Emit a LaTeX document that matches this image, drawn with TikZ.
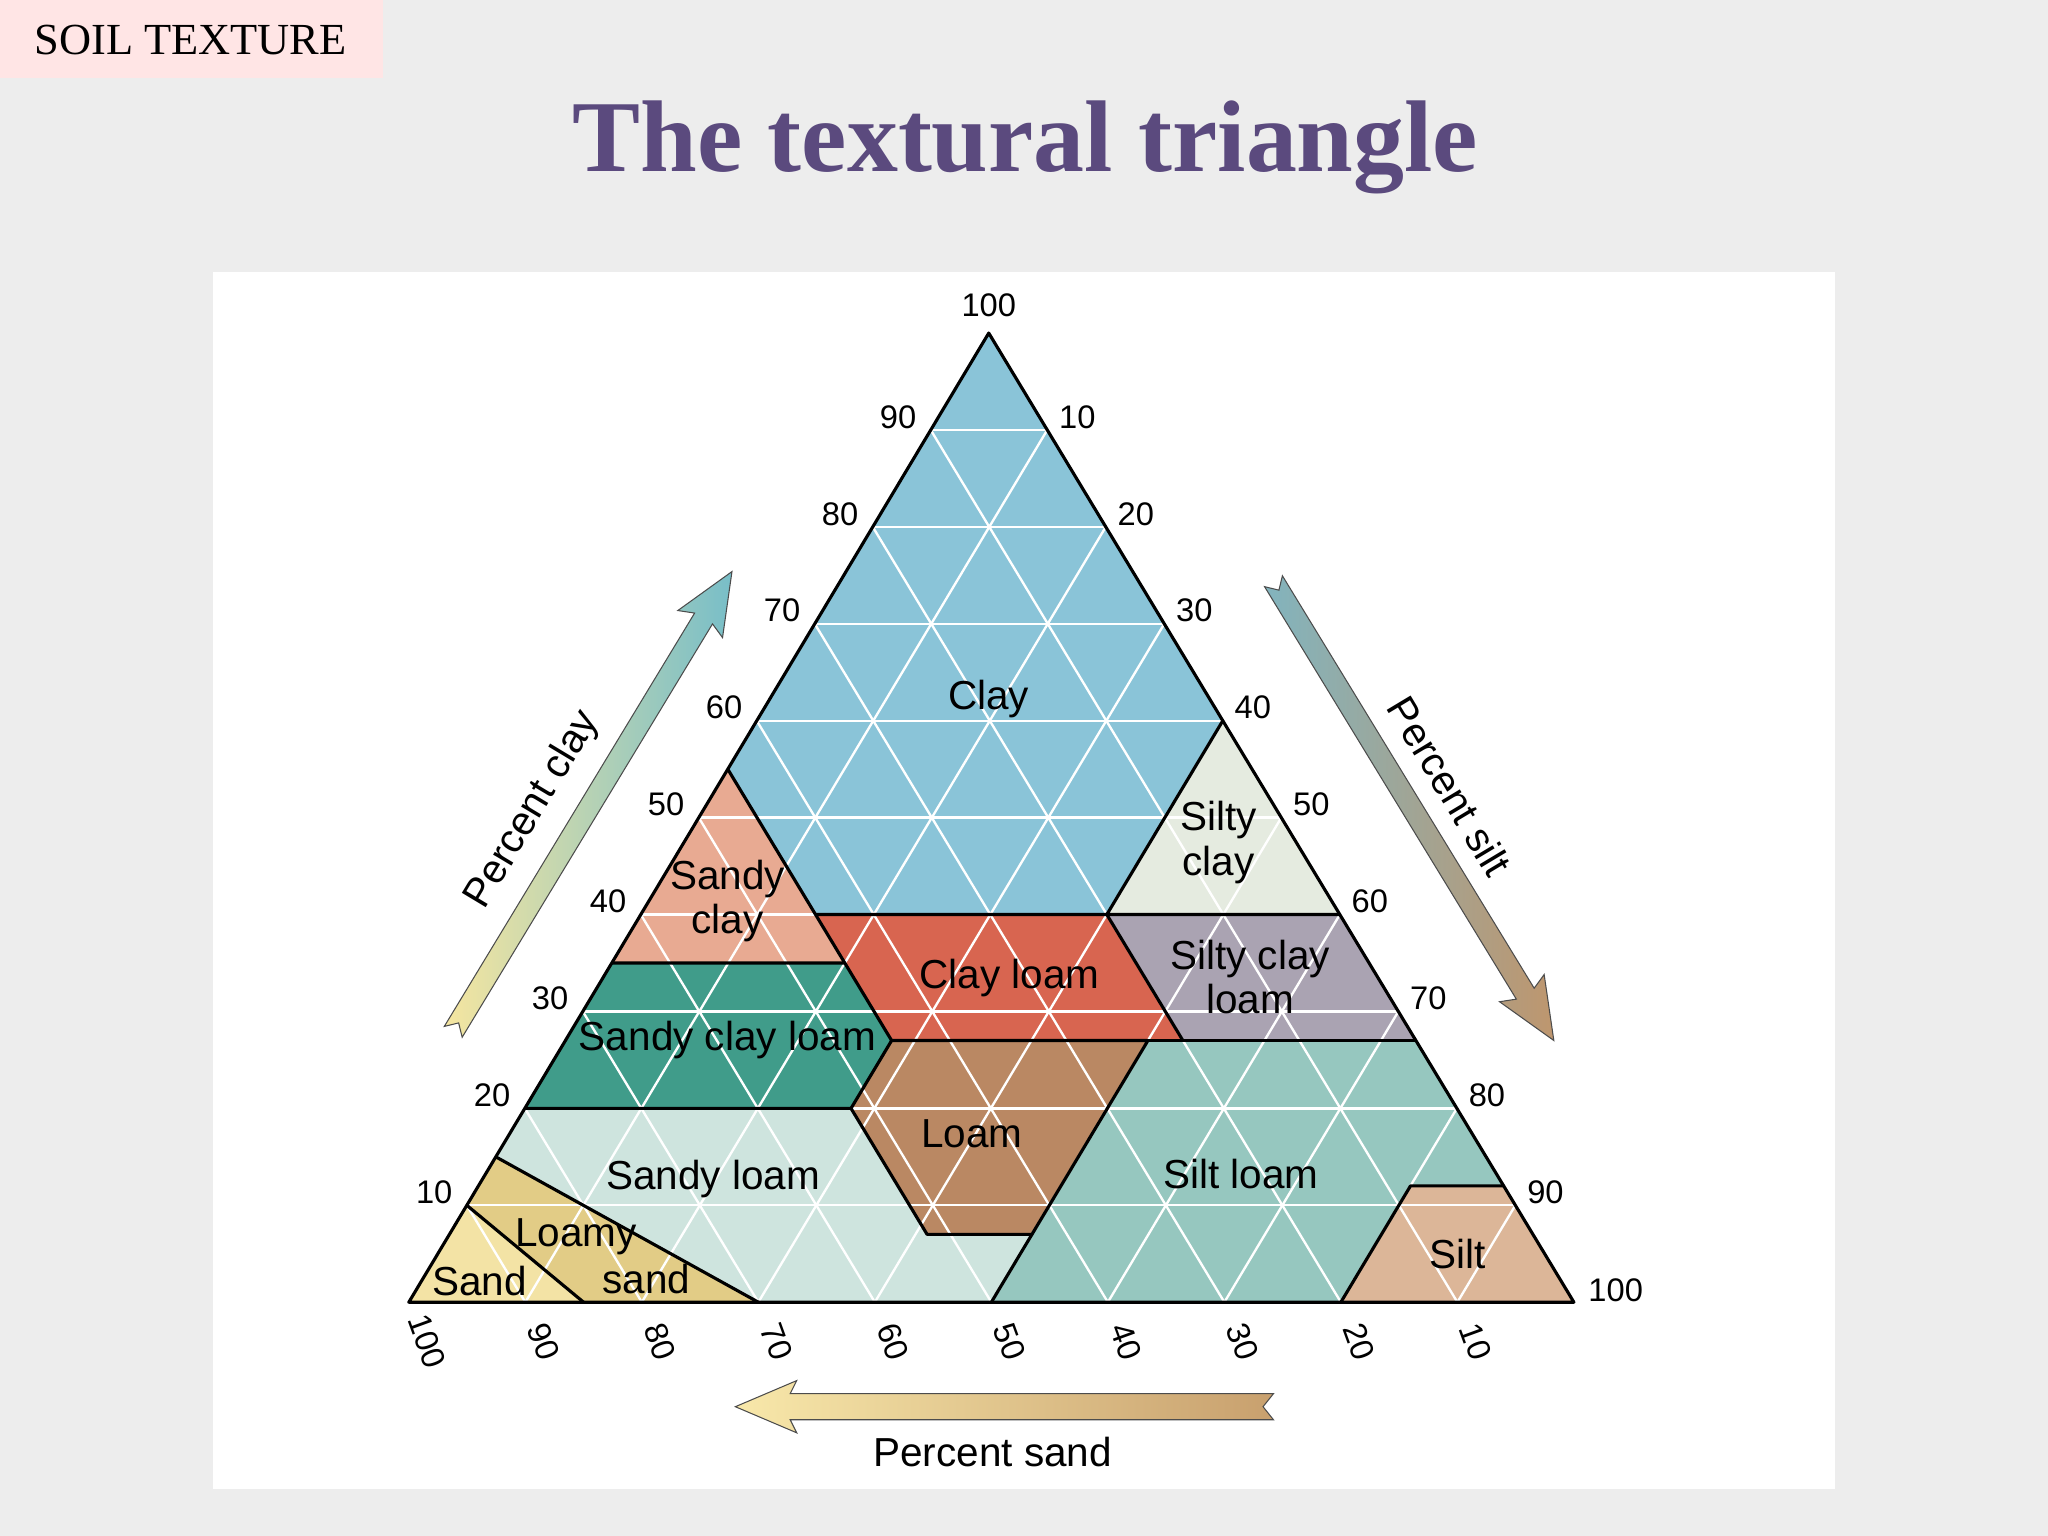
\documentclass[tikz,border=0pt]{standalone}
\usepackage{fontspec}
\setmainfont{Liberation Sans}
\newfontfamily\serifF{Liberation Serif}
\begin{document}
\begin{tikzpicture}[x=0.5pt,y=-0.5pt,
  reg/.style={draw=black,line width=1.2pt,line join=round},
  lab/.style={font=\fontsize{15.5}{17}\selectfont,align=center,inner sep=0pt},
  tick/.style={font=\fontsize{12.5}{14}\selectfont,inner sep=0pt},
  grid/.style={white,line width=0.9pt}]
\newcommand\tp[3]{({(#1)*3.13+(#2)*12.05+(#3)*7.57},{(#1)*9.97+(#2)*9.97+(#3)*2.55})}
\newcommand\tpo[5]{({(#1)*3.13+(#2)*12.05+(#3)*7.57+(#4)},{(#1)*9.97+(#2)*9.97+(#3)*2.55+(#5)})}
\useasboundingbox (0,0) rectangle (1568,1176);
\fill[gray!14] (0,0) rectangle (1568,1176);
\fill[white] (163,208) rectangle (1405,1140);
\fill[red!10!white] (0,0) rectangle (293,60);
\node[font=\serifF\fontsize{17}{20}\selectfont] (hdr) at (146,31) {SOIL TEXTURE};
\node[font=\serifF\bfseries\fontsize{39}{46}\selectfont,text={rgb,255:red,91;green,74;blue,126}] (title) at (785,113) {The textural triangle};
\coordinate (S) at (313,997);
\coordinate (Si) at (1205,997);
\coordinate (C) at (757,255);
\definecolor{cclay}{RGB}{138,196,216}
\definecolor{csc}{RGB}{229,235,224}
\definecolor{csicl}{RGB}{170,163,178}
\definecolor{ccl}{RGB}{216,101,80}
\definecolor{csac}{RGB}{232,170,146}
\definecolor{cscl}{RGB}{64,156,138}
\definecolor{cloam}{RGB}{186,136,99}
\definecolor{csl}{RGB}{206,228,222}
\definecolor{csil}{RGB}{150,199,191}
\definecolor{csilt}{RGB}{220,182,152}
\definecolor{cls}{RGB}{226,204,134}
\definecolor{csand}{RGB}{243,227,165}
\fill[csand] \tp{100}{0}{0}--\tp{85}{15}{0}--\tp{90}{0}{10}--cycle;
\fill[cls] \tp{85}{15}{0}--\tp{70}{30}{0}--\tp{85}{0}{15}--\tp{90}{0}{10}--cycle;
\fill[csl] \tp{70}{30}{0}--\tp{50}{50}{0}--\tp{43}{50}{7}--\tp{52}{41}{7}--\tp{52}{28}{20}--\tp{80}{0}{20}--\tp{85}{0}{15}--cycle;
\fill[cloam] \tp{43}{50}{7}--\tp{52}{41}{7}--\tp{52}{28}{20}--\tp{45}{28}{27}--\tp{23}{50}{27}--cycle;
\fill[csil] \tp{50}{50}{0}--\tp{20}{80}{0}--\tp{8}{80}{12}--\tp{0}{88}{12}--\tp{0}{73}{27}--\tp{23}{50}{27}--\tp{43}{50}{7}--cycle;
\fill[csilt] \tp{20}{80}{0}--\tp{0}{100}{0}--\tp{0}{88}{12}--\tp{8}{80}{12}--cycle;
\fill[cscl] \tp{80}{0}{20}--\tp{65}{0}{35}--\tp{45}{20}{35}--\tp{45}{28}{27}--\tp{52}{28}{20}--cycle;
\fill[csac] \tp{65}{0}{35}--\tp{45}{0}{55}--\tp{45}{20}{35}--cycle;
\fill[ccl] \tp{45}{28}{27}--\tp{45}{15}{40}--\tp{20}{40}{40}--\tp{20}{53}{27}--cycle;
\fill[csicl] \tp{20}{40}{40}--\tp{20}{53}{27}--\tp{0}{73}{27}--\tp{0}{60}{40}--cycle;
\fill[csc] \tp{0}{40}{60}--\tp{20}{40}{40}--\tp{0}{60}{40}--cycle;
\fill[cclay] \tp{45}{0}{55}--\tp{0}{0}{100}--\tp{0}{40}{60}--\tp{20}{40}{40}--\tp{45}{15}{40}--cycle;
\foreach \k in {10,20,...,90}{
  \pgfmathtruncatemacro\m{100-\k}
  \draw[grid] \tp{\m}{0}{\k}--\tp{0}{\m}{\k};
  \draw[grid] \tp{\k}{\m}{0}--\tp{\k}{0}{\m};
  \draw[grid] \tp{\m}{\k}{0}--\tp{0}{\k}{\m};
}
\draw[reg] \tp{85}{15}{0}--\tp{90}{0}{10};
\draw[reg] \tp{70}{30}{0}--\tp{85}{0}{15};
\draw[reg] \tp{80}{0}{20}--\tp{52}{28}{20}--\tp{52}{41}{7}--\tp{43}{50}{7}--\tp{50}{50}{0};
\draw[reg] \tp{52}{28}{20}--\tp{45}{28}{27}--\tp{23}{50}{27}--\tp{43}{50}{7};
\draw[reg] \tp{20}{80}{0}--\tp{8}{80}{12}--\tp{0}{88}{12};
\draw[reg] \tp{23}{50}{27}--\tp{0}{73}{27};
\draw[reg] \tp{65}{0}{35}--\tp{45}{20}{35}--\tp{45}{28}{27};
\draw[reg] \tp{45}{0}{55}--\tp{45}{20}{35};
\draw[reg] \tp{45}{15}{40}--\tp{20}{40}{40}--\tp{20}{53}{27};
\draw[reg] \tp{0}{40}{60}--\tp{20}{40}{40}--\tp{0}{60}{40};
\draw[reg] (S)--(Si)--(C)--cycle;
\node[lab] (l1) at (757,535) {Clay};
\node[lab] (l2) at (933,645) {Silty\\clay};
\node[lab] (l3) at (557,690) {Sandy\\clay};
\node[lab] (l4) at (773,749) {Clay loam};
\node[lab] (l5) at (957,748) {Silty clay\\loam};
\node[lab] (l6) at (557,796) {Sandy clay loam};
\node[lab] (l7) at (744,868) {Loam};
\node[lab] (l8) at (546,903) {Sandy loam};
\node[lab] (l9) at (950,899) {Silt loam};
\node[lab] (l10) at (1116,960) {Silt};
\node[lab] (l11) at (441,947) {Loamy};
\node[lab] (l12) at (495,979) {sand};
\node[lab] (l13) at (367,981) {Sand};
\node[tick] (t100) at (757,234) {100};
\foreach \k in {10,20,...,90}{
  \pgfmathtruncatemacro\m{100-\k}
  \node[tick] (lc\k) at \tpo{\m}{0}{\k}{-25}{-10} {\k};
  \node[tick] (rs\k) at \tpo{0}{\k}{\m}{23}{-10} {\k};
}
\node[tick] (rs100) at (1237,988) {100};
\foreach \k in {100,90,...,10}{
  \pgfmathtruncatemacro\m{100-\k}
  \node[tick,rotate=-70] (bs\k) at \tpo{\k}{\m}{0}{14}{30} {\k};
}
\begin{scope}[shift={(347,790)},rotate=58.8]
\shade[left color={rgb,255:red,246;green,230;blue,160},right color={rgb,255:red,120;green,190;blue,200},draw=gray!60!black,line width=0.4pt]
 (0,-8)--(370,-8)--(365,-20)--(412,0)--(365,20)--(370,8)--(0,8)--(8,0)--cycle;
\end{scope}
\begin{scope}[shift={(975,445)},rotate=-58.6]
\shade[left color={rgb,255:red,130;green,180;blue,190},right color={rgb,255:red,190;green,150;blue,110},draw=gray!60!black,line width=0.4pt]
 (0,-8)--(370,-8)--(365,-20)--(412,0)--(365,20)--(370,8)--(0,8)--(8,0)--cycle;
\end{scope}
\begin{scope}[shift={(975,1077)},rotate=180]
\shade[left color={rgb,255:red,248;green,232;blue,170},right color={rgb,255:red,200;green,160;blue,110},draw=gray!60!black,line width=0.4pt]
 (0,-10)--(370,-10)--(365,-20)--(412,0)--(365,20)--(370,10)--(0,10)--(8,0)--cycle;
\end{scope}
\node[lab,rotate=59] (pc) at (408,620) {Percent clay};
\node[lab,rotate=-59] (ps) at (1110,602) {Percent silt};
\node[lab] (psa) at (760,1112) {Percent sand};
\end{tikzpicture}
\end{document}
